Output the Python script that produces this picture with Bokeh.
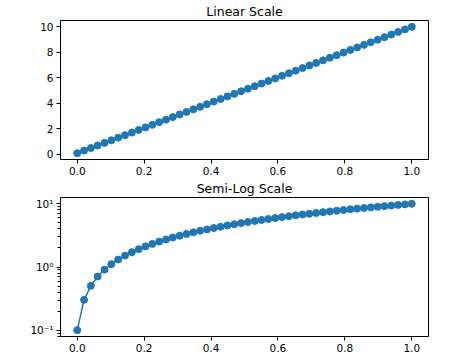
from bokeh.plotting import figure
from bokeh.layouts import column
from bokeh.models import Range1d, FixedTicker
from bokeh.embed import file_html
from bokeh.resources import INLINE

# ---- data ----
x = [0.0, 0.0204, 0.0408, 0.0612, 0.0816, 0.1020, 0.1224, 0.1429, 0.1633, 0.1837,
     0.2041, 0.2245, 0.2449, 0.2653, 0.2857, 0.3061, 0.3265, 0.3469, 0.3673, 0.3878,
     0.4082, 0.4286, 0.4490, 0.4694, 0.4898, 0.5102, 0.5306, 0.5510, 0.5714, 0.5918,
     0.6122, 0.6327, 0.6531, 0.6735, 0.6939, 0.7143, 0.7347, 0.7551, 0.7755, 0.7959,
     0.8163, 0.8367, 0.8571, 0.8776, 0.8980, 0.9184, 0.9388, 0.9592, 0.9796, 1.0]
y = [0.100, 0.302, 0.504, 0.706, 0.908, 1.110, 1.312, 1.514, 1.716, 1.918,
     2.120, 2.322, 2.524, 2.727, 2.929, 3.131, 3.333, 3.535, 3.737, 3.939,
     4.141, 4.343, 4.545, 4.747, 4.949, 5.151, 5.353, 5.555, 5.757, 5.959,
     6.161, 6.363, 6.565, 6.767, 6.969, 7.171, 7.373, 7.576, 7.778, 7.980,
     8.182, 8.384, 8.586, 8.788, 8.990, 9.192, 9.394, 9.596, 9.798, 10.000]
x_ticks = [0.0, 0.2, 0.4, 0.6, 0.8, 1.0]
x_tick_labels = ["0.0", "0.2", "0.4", "0.6", "0.8", "1.0"]
lin_ticks = [0, 2, 4, 6, 8, 10]
lin_tick_labels = ["0", "2", "4", "6", "8", "10"]
log_ticks = [0.1, 1, 10]
log_tick_labels = ["10\u207b\u00b9", "10\u2070", "10\u00b9"]
log_minor = [0.08, 0.09, 0.2, 0.3, 0.4, 0.5, 0.6, 0.7, 0.8, 0.9, 2, 3, 4, 5, 6, 7, 8, 9]

BLUE = "#1f77b4"
FONT = "DejaVu Sans"


def style(p, title):
    p.title.text = title
    p.title.align = "center"
    p.title.text_font = FONT
    p.title.text_font_size = "12.5px"
    p.title.text_font_style = "normal"
    p.title.text_color = "black"
    p.title.offset = 0
    p.title.standoff = 3
    p.outline_line_color = "black"
    p.outline_line_width = 1
    p.xgrid.visible = False
    p.ygrid.visible = False
    p.background_fill_color = "white"
    p.border_fill_color = "white"
    for ax in p.axis:
        ax.axis_line_color = None
        ax.major_tick_in = 0
        ax.major_tick_out = 4
        ax.major_tick_line_color = "black"
        ax.minor_tick_in = 0
        ax.minor_tick_out = 3
        ax.minor_tick_line_color = "black"
        ax.major_label_text_font = FONT
        ax.major_label_text_font_size = "10.5px"
        ax.major_label_text_color = "black"
        ax.major_label_standoff = 3
    p.xaxis.ticker = FixedTicker(ticks=x_ticks)
    p.xaxis.major_label_overrides = dict(zip(x_ticks, x_tick_labels))


p1 = figure(frame_width=368, frame_height=139, output_backend="svg",
            toolbar_location=None, x_range=Range1d(-0.05, 1.05),
            y_range=Range1d(-0.395, 10.495),
            min_border_left=60, min_border_right=30, min_border_top=14,
            min_border_bottom=16)
style(p1, "Linear Scale")
p1.yaxis.ticker = FixedTicker(ticks=lin_ticks)
p1.yaxis.major_label_overrides = dict(zip(lin_ticks, lin_tick_labels))
p1.line(x, y, line_color=BLUE, line_width=1.5)
p1.scatter(x, y, size=7, fill_color=BLUE, line_color=BLUE)

p2 = figure(frame_width=368, frame_height=139, output_backend="svg",
            toolbar_location=None, x_range=Range1d(-0.05, 1.05),
            y_range=Range1d(10 ** -1.1, 10 ** 1.1), y_axis_type="log",
            min_border_left=60, min_border_right=30, min_border_top=14,
            min_border_bottom=16)
style(p2, "Semi-Log Scale")
p2.yaxis.ticker = FixedTicker(ticks=log_ticks, minor_ticks=log_minor)
p2.yaxis.major_label_overrides = dict(zip(log_ticks, log_tick_labels))
p2.line(x, y, line_color=BLUE, line_width=1.5)
p2.scatter(x, y, size=7, fill_color=BLUE, line_color=BLUE)

layout = column(p1, p2, spacing=0)
open("out.html", "w").write(file_html(layout, INLINE))
